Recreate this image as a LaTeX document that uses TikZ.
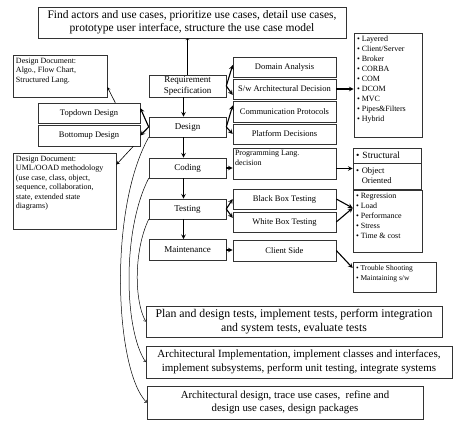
\documentclass[tikz,border=0pt]{standalone}
\usepackage{fontspec}
\setmainfont{Liberation Serif}
\usetikzlibrary{arrows, calc}

\tikzstyle{phase} = [
    rectangle,
    minimum width=77pt,
    minimum height=20pt,
    inner sep=1pt,
    align=center,
    draw=black!80,
    line width=0.6pt,
    font=\fontsize{9}{11}\selectfont
]
\tikzstyle{task} = [
    rectangle,
    minimum width=103pt,
    minimum height=20pt,
    inner sep=1pt,
    align=center,
    draw=black!80,
    line width=0.6pt,
    font=\fontsize{8.5}{10}\selectfont
]
\tikzstyle{doc} = [
    rectangle,
    inner sep=3pt,
    draw=black!80,
    line width=0.6pt,
    font=\fontsize{8}{9.5}\selectfont
]
\tikzstyle{listbox} = [
    rectangle,
    inner sep=3pt,
    draw=black!80,
    line width=0.6pt,
    font=\fontsize{8}{10}\selectfont
]
\tikzstyle{activity} = [
    rectangle,
    inner sep=1pt,
    align=center,
    draw=black!80,
    line width=0.6pt,
    font=\fontsize{11.5}{13.5}\selectfont
]
\tikzstyle{arrow} = [line width=1.1pt,->,>=stealth]
\tikzstyle{thinarrow} = [line width=0.6pt,->,>=stealth]
\tikzstyle{curvearrow} = [line width=0.5pt,->,>=to]

\begin{document}
\begin{tikzpicture}[x=1pt, y=-1pt, node distance=41pt]
    \useasboundingbox (0,0) rectangle (474,430);

    % main phases
    \node (req) [phase, minimum height=22pt] at (187.5,86) {Requirement\\Specification};
    \node (design) [phase, below of=req] {Design};
    \node (coding) [phase, below of=design] {Coding};
    \node (testing) [phase, below of=coding] {Testing};
    \node (maint) [phase, below of=testing, minimum height=21pt] {Maintenance};

    % workflow boxes
    \node (top) [activity, minimum width=308pt, minimum height=31pt] at (192,22.5)
        {Find actors and use cases, prioritize use cases, detail use cases,\\
         prototype user interface, structure the use case model};
    \node (plantest) [activity, minimum width=296pt, minimum height=31pt,
        font=\fontsize{11.8}{13.5}\selectfont] at (294,321.5)
        {Plan and design tests, implement tests, perform integration\\
         and system tests, evaluate tests};
    \node (archimpl) [activity, minimum width=306pt, minimum height=32pt,
        font=\fontsize{11}{13.5}\selectfont] at (299,362)
        {Architectural Implementation, implement classes and interfaces,\\
         implement subsystems, perform unit testing, integrate systems};
    \node (archdes) [activity, minimum width=276pt, minimum height=33pt,
        font=\fontsize{10.8}{13.5}\selectfont] at (285,402.5)
        {Architectural design, trace use cases,\ \ refine and\\
         design use cases, design packages};

    % design side
    \node (topdown) [task, minimum width=102pt] at (89,113) {Topdown Design};
    \node (bottomup) [task, minimum width=102pt, minimum height=21pt] at (89,135.5) {Bottomup Design};
    \node (docone) [doc] at (60,76)
        {\parbox[t][36pt][t]{88pt}{Design Document:\\Algo., Flow Chart,\\Structured Lang.}};
    \node (doctwo) [doc] at (64.5,191)
        {\parbox[t][70pt][t]{97pt}{Design Document:\\UML/OOAD methodology\\(use case, class, object,\\
         sequence, collaboration,\\state, extended state\\diagrams)}};

    % tasks
    \node (domain) [task] at (284.5,67) {Domain Analysis};
    \node (swarch) [task] at (284.5,89) {S/w Architectural Decision};
    \node (comm) [task, minimum height=21pt] at (284.5,111.5) {Communication Protocols};
    \node (platform) [task] at (284.5,134) {Platform Decisions};
    \node (prog) [task, inner sep=2pt, font=\fontsize{8}{10}\selectfont] at (284.5,163.5)
        {\parbox[t][27pt][t]{99pt}{Programming Lang.\\decision}};
    \node (blackbox) [task] at (284.5,199) {Black Box Testing};
    \node (whitebox) [task] at (284.5,222) {White Box Testing};
    \node (client) [task, minimum height=21pt] at (284.5,250.5) {Client Side};

    % option lists
    \node (styles) [listbox] at (388,85)
        {\parbox[t][98pt][t]{62pt}{\textbullet\ Layered\\\textbullet\ Client/Server\\\textbullet\ Broker\\
         \textbullet\ CORBA\\\textbullet\ COM\\\textbullet\ DCOM\\\textbullet\ MVC\\
         \textbullet\ Pipes\&Filters\\\textbullet\ Hybrid}};
    \node (structural) [listbox, text width=62pt, align=left, minimum height=15pt,
        inner sep=3pt, font=\fontsize{9.5}{11}\selectfont] at (387,155.5) {\textbullet\ Structural};
    \node (oop) [listbox, text width=62pt, align=left, minimum height=26pt,
        font=\fontsize{8.5}{10}\selectfont] at (387,176)
        {\textbullet\ Object\\\hphantom{\textbullet\ }Oriented};
    \node (regr) [listbox] at (387.5,221)
        {\parbox[t][56pt][t]{63pt}{\textbullet\ Regression\\\textbullet\ Load\\\textbullet\ Performance\\
         \textbullet\ Stress\\\textbullet\ Time \& cost}};
    \node (trouble) [listbox, font=\fontsize{7.5}{10}\selectfont] at (394.5,277)
        {\parbox[t][24pt][t]{77pt}{\textbullet\ Trouble Shooting\\\textbullet\ Maintaining s/w}};

    % phase flow
    \draw [curvearrow] (req.north) -- (req.north |- top.south);
    \draw [arrow] ([xshift=-4pt]req.south) -- ([xshift=-4pt]design.north);
    \draw [arrow] ([xshift=-4pt]design.south) -- ([xshift=-4pt]coding.north);
    \draw [arrow] ([xshift=-4pt]coding.south) -- ([xshift=-4pt]testing.north);
    \draw [arrow] ([xshift=-4pt]testing.south) -- ([xshift=-4pt]maint.north);

    \draw [arrow] (design.west) -- ([yshift=5pt]topdown.east);
    \draw [arrow] (design.west) -- (bottomup.east);
    \draw [thinarrow] ([xshift=-25pt]topdown.north east) -- ([yshift=-11pt]docone.east);
    \draw [thinarrow] ([xshift=-7pt]bottomup.south east) -- ([yshift=-12pt]doctwo.north east);

    \draw [arrow] (req.east) -- ([yshift=2pt]domain.west);
    \draw [arrow] (req.east) -- ([yshift=-6pt]swarch.west);
    \draw [arrow] (design.east) -- ([yshift=6pt]comm.west);
    \draw [arrow] (design.east) -- (platform.west);
    \draw [arrow] (coding.east) -- (coding.east -| prog.west);
    \draw [arrow] (testing.east) -- (blackbox.west);
    \draw [arrow] (testing.east) -- ([yshift=4pt]whitebox.west);
    \draw [arrow] (maint.east) -- (maint.east -| client.west);

    \draw [arrow] (swarch.east) -- (swarch.east -| styles.west);
    \draw [arrow] ([yshift=-5pt]prog.east) -- ([yshift=-5pt]prog.east -| oop.west);
    \draw [arrow] (blackbox.east) -- ([yshift=13pt]regr.west);
    \draw [arrow] (whitebox.east) -- ([yshift=13pt]regr.west);
    \draw [arrow] (client.east) -- ([yshift=9pt]trouble.west);

    % workflows
    \draw [curvearrow] (design.south west) .. controls (108,210) and (115,370) .. (archdes.west);
    \draw [curvearrow] (coding.south west) .. controls (122,230) and (124,330) .. (archimpl.west);
    \draw [curvearrow] (testing.south west) .. controls (134,250) and (134,300) .. (plantest.west);
\end{tikzpicture}
\end{document}
